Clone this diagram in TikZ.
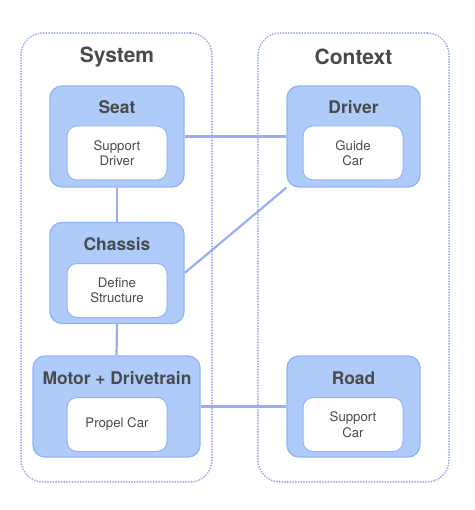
\documentclass[tikz,border=0pt]{standalone}
\usepackage{fontspec}
\setmainfont{TeX Gyre Heros}
\usetikzlibrary{backgrounds}
\definecolor{boxfill}{HTML}{AECBFA}
\definecolor{boxline}{HTML}{92B4F6}
\definecolor{conn}{HTML}{97AEF3}
\definecolor{dots}{HTML}{94A8EF}
\definecolor{txt}{HTML}{4A4A4A}
\tikzset{
  container/.style={draw=dots, line width=2pt, dash pattern=on 0.01pt off 2.7pt, line cap=round, rounded corners=22pt, minimum width=191pt, minimum height=449pt},
  outerbox/.style={draw=boxline, fill=boxfill, line width=1.3pt, rounded corners=12pt, minimum height=101pt, inner sep=0pt},
  innerbox/.style={draw=boxline, fill=white, line width=1pt, rounded corners=10pt, minimum width=100pt, minimum height=54pt, inner sep=0pt, align=center, font=\fontsize{13.2}{15.5}\selectfont, text=txt},
  boxlabel/.style={font=\fontsize{17.4}{20}\selectfont\bfseries, text=txt, inner sep=0pt},
  titlelabel/.style={font=\fontsize{21}{24}\selectfont\bfseries, text=txt, inner sep=0pt},
  link/.style={draw=conn, line width=2.2pt}
}
\begin{document}
\begin{tikzpicture}[x=1pt,y=-1pt]
\useasboundingbox (0,0) rectangle (474,510);
\node[container] (sys) at (116.5,257.5) {};
\node[container] (ctx) at (353.5,257.5) {};
\node[titlelabel] (systitle) at (117,57) {System};
\node[titlelabel] (ctxtitle) at (353.5,57) {Context};
% outer boxes
\node[outerbox, minimum width=134pt] (seat) at (117,136.5) {};
\node[outerbox, minimum width=134pt] (chassis) at (117,273) {};
\node[outerbox, minimum width=167pt] (motor) at (116.5,406.5) {};
\node[outerbox, minimum width=133pt] (driver) at (353.5,136.5) {};
\node[outerbox, minimum width=133pt] (road) at (353.5,406.5) {};
% labels
\node[boxlabel] (seatl) at (117,107) {Seat};
\node[boxlabel] (chassisl) at (117,244) {Chassis};
\node[boxlabel] (motorl) at (117,378) {Motor + Drivetrain};
\node[boxlabel] (driverl) at (353.5,107) {Driver};
\node[boxlabel] (roadl) at (353.5,378) {Road};
% inner boxes
\node[innerbox] (seati) at (117,153) {Support\\Driver};
\node[innerbox] (chassisi) at (117,290.5) {Define\\Structure};
\node[innerbox] (motori) at (117,424.5) {Propel Car};
\node[innerbox] (driveri) at (353,153) {Guide\\Car};
\node[innerbox] (roadi) at (353,424.5) {Support\\Car};
% connectors
\begin{scope}[on background layer]
\draw[link] (seat.east) -- (driver.west);
\draw[link] (seat.south) -- (chassis.north);
\draw[link] (chassis.south) -- (motor.north);
\draw[link] (chassis.east) -- (driver.south west);
\draw[link] (motor.east) -- (road.west);
\end{scope}
\end{tikzpicture}
\end{document}
